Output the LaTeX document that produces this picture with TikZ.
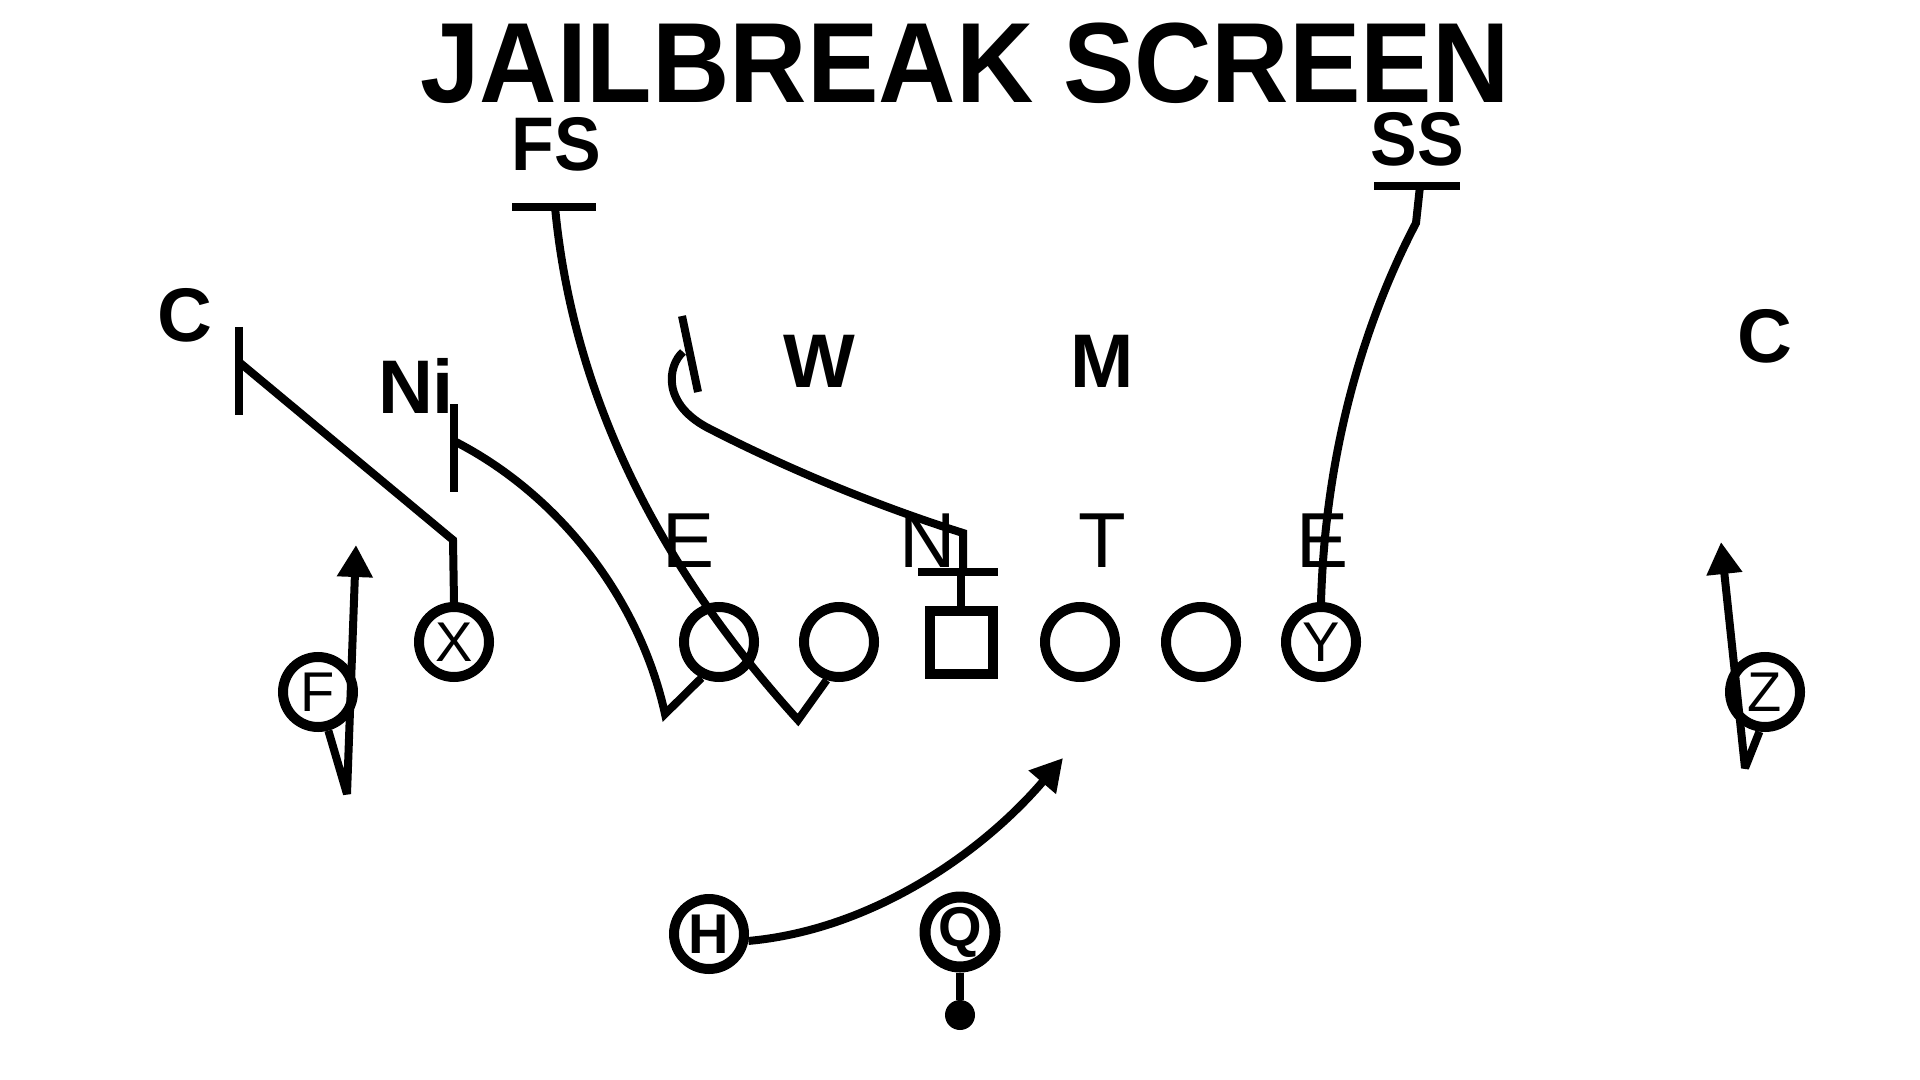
\documentclass[tikz,border=0pt]{standalone}
\usepackage{fontspec}
\setmainfont{Liberation Sans}
\usepackage{graphicx}
\usetikzlibrary{arrows.meta}

\begin{document}
\begin{tikzpicture}[x=0.5pt,y=-0.5pt,
  route/.style={line width=4pt,miter limit=3.5},
  routetip/.style={route,-{Triangle[length=16pt,width=17pt]}},
  player/.style={draw,circle,line width=5pt,minimum size=35pt,inner sep=0pt,font=\fontsize{28}{28}\selectfont},
  snapbox/.style={draw,rectangle,line width=5pt,minimum size=31.5pt,inner sep=0pt},
  defender/.style={anchor=base,inner sep=0pt,font=\bfseries\fontsize{38}{38}\selectfont},
  dline/.style={anchor=base,inner sep=0pt,font=\fontsize{39}{39}\selectfont}]
\useasboundingbox (0,0) rectangle (1920,1080);
\node[anchor=base,inner sep=0pt,font=\bfseries\fontsize{57}{57}\selectfont] (title) at (965,103) {\scalebox{0.94}[1]{JAILBREAK SCREEN}};
% defense
\node[defender] (fs) at (556,171) {\scalebox{0.92}[1]{FS}};
\node[defender] (ss) at (1417,166) {\scalebox{0.92}[1]{SS}};
\node[defender] (cl) at (185,342) {C};
\node[defender] (cr) at (1765,363) {C};
\node[defender] (ni) at (416,413) {Ni};
\node[defender] (w) at (819,387) {W};
\node[defender] (m) at (1102,387) {M};
\node[dline] (el) at (689,567) {E};
\node[dline] (n) at (928,567) {N};
\node[dline] (t) at (1102,567) {T};
\node[dline] (er) at (1322,567) {E};
% offense
\node[player] (F) at (318,692) {F};
\node[player] (X) at (454,642) {X};
\node[player] (LT) at (719,642) {};
\node[player] (LG) at (839,642) {};
\node[snapbox] (OC) at (961,642) {};
\node[player] (RG) at (1080,642) {};
\node[player] (RT) at (1201,642) {};
\node[player] (Y) at (1321,642) {Y};
\node[player] (Z) at (1765,692) {Z};
\node[player,font=\bfseries\fontsize{28}{28}\selectfont] (H) at (709,934) {H};
\node[player,line width=5.5pt,font=\bfseries\fontsize{28}{28}\selectfont] (Q) at (960,932) {Q};
\node[fill,circle,minimum size=15pt,inner sep=0pt] (qdot) at (960,1015) {};
% block marks
\coordinate (clbar) at (239,362);
\coordinate (nibar) at (454,441);
\coordinate (fsbar) at (555,207);
\coordinate (ssbar) at (1420,186);
\coordinate (wmark) at (683,352);
\coordinate (ocbar) at (961,572);
\draw[route] (239,327) -- (239,415);
\draw[route] (454,404) -- (454,492);
\draw[route] (512,207) -- (596,207);
\draw[route] (1374,186) -- (1460,186);
\draw[route] (682,316) -- (698,392);
\draw[route] (918,572) -- (998,572);
\draw[route] (OC.north) -- (ocbar);
% routes
\draw[route] (clbar) -- (453,540) -- (X.north);
\draw[route] (nibar) .. controls (560,495) and (640,600) .. (665,714) -- (LT.244);
\draw[route] (fsbar) .. controls (575,420) and (680,590) .. (798,720) -- (LG.252);
\draw[route] (wmark) .. controls (668,365) and (660,405) .. (712,430) .. controls (800,475) and (890,510) .. (963,533) -- (963,572);
\draw[route] (ssbar) -- (1416,223) .. controls (1360,330) and (1325,460) .. (Y.north);
\draw[routetip] (F.285) -- (347,794) -- (356,545);
\draw[routetip] (Z.262) -- (1745,768) -- (1721,542);
\draw[routetip] (H.-10) .. controls (870,930) and (980,855) .. (1063,758);
\draw[route] (Q.south) -- (qdot);
\end{tikzpicture}
\end{document}
